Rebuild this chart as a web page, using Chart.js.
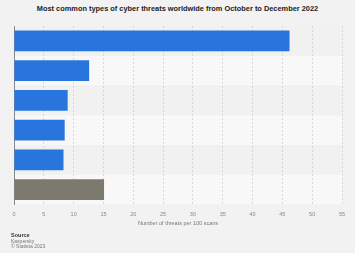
<!DOCTYPE html>
<html>
<head>
<meta charset="utf-8">
<script src="https://cdn.jsdelivr.net/npm/chart.js@4"></script>
<style>
  html,body{margin:0;padding:0;background:#f2f2f2;}
  body{width:355px;height:253px;position:relative;overflow:hidden;font-family:"Liberation Sans",Arial,sans-serif;}
  #title{position:absolute;top:4px;left:0;width:355px;text-align:center;font-size:7.4px;font-weight:bold;color:#222;}
  #wrap{position:absolute;left:0;top:0;width:355px;height:225px;}
  #xtitle{position:absolute;top:219.5px;left:14px;width:328px;text-align:center;font-size:5.5px;color:#777;}
  #src{position:absolute;left:11px;top:233px;font-size:5px;color:#777;line-height:5.6px;}
  #src b{color:#333;font-size:5.5px;}
</style>
</head>
<body>
<div id="title">Most common types of cyber threats worldwide from October to December 2022</div>
<div id="wrap"><canvas id="c"></canvas></div>
<div id="xtitle">Number of threats per 100 scans</div>
<div id="src"><b>Source</b><br>Kaspersky<br>© Statista 2023</div>
<script>
/* ---------- data ---------- */
const categories = ['Threat type 1','Threat type 2','Threat type 3','Threat type 4','Threat type 5','Other'];
const threatValues = [46.2, 12.6, 9.0, 8.5, 8.3, 15.1];
const barColors = ['#2876dd','#2876dd','#2876dd','#2876dd','#2876dd','#7c7a6f'];
const xTicks = [0,5,10,15,20,25,30,35,40,45,50,55];

/* ---------- alternating row bands ---------- */
const bands = {
  id:'bands',
  beforeDraw(chart){
    const {ctx, chartArea:a} = chart;
    const n = categories.length;
    const h = (a.bottom - a.top) / n;
    ctx.save();
    for (let i=0;i<n;i++){
      ctx.fillStyle = i%2 ? '#f8f8f8' : '#f1f1f1';
      ctx.fillRect(a.left, a.top + i*h, a.right - a.left, h);
    }
    ctx.restore();
  }
};

const tickFont = {size:5.5, family:'"Liberation Sans", Arial'};

new Chart(document.getElementById('c'), {
  type:'bar',
  data:{ labels:categories, datasets:[{ data:threatValues, backgroundColor:barColors,
         barPercentage:0.7, categoryPercentage:1 }] },
  options:{
    indexAxis:'y',
    responsive:true, maintainAspectRatio:false, animation:false,
    layout:{ padding:{ top:26, left:14, right:13, bottom:0 } },
    plugins:{ legend:{display:false}, tooltip:{enabled:false} },
    scales:{
      x:{
        min:0, max:55,
        afterBuildTicks: s => { s.ticks = xTicks.map(v=>({value:v})); },
        grid:{ color:'#d0d0d0', drawTicks:false, lineWidth:0.8 },
        border:{ display:false, dash:[2,2] },
        ticks:{ color:'#888', font:tickFont, padding:7 }
      },
      y:{
        afterFit: s => { s.width = 0; },
        grid:{ display:false },
        border:{ display:true, color:'#888', width:1 },
        ticks:{ display:false }
      }
    }
  },
  plugins:[bands]
});
</script>
</body>
</html>
